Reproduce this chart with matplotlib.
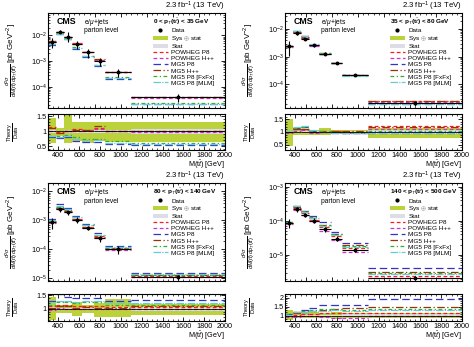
"""CMS double-differential ttbar cross section vs M(tt) in bins of pT(tt)."""

import matplotlib.pyplot as plt
import numpy as np
from matplotlib.lines import Line2D
from matplotlib.patches import Patch

plt.rcParams['font.family'] = ['Liberation Sans', 'DejaVu Sans']
plt.rcParams['mathtext.fontset'] = 'custom'
plt.rcParams['mathtext.rm'] = 'Liberation Sans'
plt.rcParams['mathtext.it'] = 'Liberation Sans:italic'
plt.rcParams['mathtext.bf'] = 'Liberation Sans:bold'

# M(tt) bin edges [GeV]
edges = np.array([300, 375, 450, 530, 625, 740, 850, 1100, 2000])

pt_titles = [
    r'0 < p$_{T}$(t$\bar{t}$) < 35 GeV',
    r'35 < p$_{T}$(t$\bar{t}$) < 80 GeV',
    r'80 < p$_{T}$(t$\bar{t}$) < 140 GeV',
    r'140 < p$_{T}$(t$\bar{t}$) < 500 GeV',
]

# measured cross sections [pb GeV^-2]
data_pt1 = [5.3e-3, 1.4e-2, 8.7e-3, 4.5e-3, 2.2e-3, 1.0e-3, 3.7e-4, 4.1e-5]
data_pt2 = [2.4e-3, 7.2e-3, 4.5e-3, 2.6e-3, 1.3e-3, 6.0e-4, 2.2e-4, 2.1e-5]
data_pt3 = [8.5e-4, 2.4e-3, 1.9e-3, 1.05e-3, 5.5e-4, 2.5e-4, 1.0e-4, 1.15e-5]
data_pt4 = [8.4e-5, 2.2e-4, 1.5e-4, 9.8e-5, 5.6e-5, 3.0e-5, 1.4e-5, 2.1e-6]

# relative sys (+) stat uncertainty, upper and lower
sys_up_pt1 = [0.46, 0.12, 0.56, 0.32, 0.32, 0.32, 0.32, 0.32]
sys_dn_pt1 = [0.37, 0.16, 0.37, 0.32, 0.37, 0.32, 0.35, 0.35]
sys_up_pt2 = [0.50, 0.15, 0.10, 0.08, 0.15, 0.07, 0.07, 0.15]
sys_dn_pt2 = [0.55, 0.12, 0.10, 0.10, 0.10, 0.07, 0.07, 0.22]
sys_up_pt3 = [0.44, 0.13, 0.13, 0.25, 0.15, 0.20, 0.35, 0.17]
sys_dn_pt3 = [0.40, 0.17, 0.17, 0.25, 0.15, 0.30, 0.29, 0.21]
sys_up_pt4 = [0.30, 0.15, 0.15, 0.20, 0.15, 0.20, 0.15, 0.15]
sys_dn_pt4 = [0.25, 0.15, 0.15, 0.15, 0.15, 0.18, 0.15, 0.15]

# relative statistical uncertainty
stat_pt1 = [0.05, 0.03, 0.04, 0.04, 0.04, 0.05, 0.06, 0.08]
stat_pt2 = [0.05, 0.03, 0.03, 0.03, 0.04, 0.04, 0.05, 0.07]
stat_pt3 = [0.06, 0.04, 0.04, 0.04, 0.05, 0.05, 0.06, 0.08]
stat_pt4 = [0.07, 0.05, 0.05, 0.05, 0.06, 0.06, 0.07, 0.09]

models = ['POWHEG P8', 'POWHEG H++', 'MG5 P8', 'MG5 H++', 'MG5 P8 [FxFx]', 'MG5 P8 [MLM]']
model_colors = ['#ff1a1a', '#cc33cc', '#3333cc', '#993300', '#33aa33', '#66cccc']
model_styles = [(0, (3, 2)), (0, (3, 2)), (0, (6, 3)), (0, (6, 2, 1, 2)), (0, (3, 2, 1, 2)), (0, (6, 1, 1, 1))]

# theory / data per pT bin, one row per model
ratio_pt1 = [
    [1.15, 0.98, 1.02, 1.08, 1.05, 1.12, 1.02, 1.00],
    [1.00, 0.95, 1.00, 1.02, 1.00, 1.08, 1.00, 0.98],
    [0.80, 0.78, 0.80, 0.68, 0.65, 0.65, 0.58, 0.55],
    [1.10, 0.95, 1.00, 1.05, 1.05, 1.18, 1.00, 1.00],
    [0.85, 0.85, 0.88, 0.80, 0.75, 0.75, 0.68, 0.60],
    [0.85, 0.82, 0.85, 0.75, 0.70, 0.70, 0.62, 0.57],
]
ratio_pt2 = [
    [1.00, 1.10, 1.12, 1.00, 1.00, 1.02, 1.00, 1.22],
    [0.95, 1.05, 1.08, 0.98, 1.00, 1.00, 0.98, 1.10],
    [1.00, 1.15, 1.20, 1.05, 1.00, 0.98, 0.97, 0.97],
    [1.00, 1.10, 1.10, 1.00, 1.02, 1.03, 1.02, 1.20],
    [1.05, 1.15, 1.20, 1.05, 1.02, 1.00, 0.98, 1.05],
    [1.05, 1.20, 1.25, 1.08, 1.00, 0.98, 0.95, 0.95],
]
ratio_pt3 = [
    [1.10, 1.15, 1.15, 1.10, 1.12, 1.12, 1.08, 1.08],
    [0.95, 1.05, 1.00, 0.98, 1.00, 1.00, 0.98, 0.98],
    [1.30, 1.55, 1.45, 1.40, 1.42, 1.42, 1.30, 1.33],
    [1.05, 1.10, 1.10, 1.05, 1.08, 1.05, 1.05, 1.10],
    [1.15, 1.25, 1.25, 1.20, 1.25, 1.25, 1.15, 1.15],
    [1.25, 1.30, 1.30, 1.25, 1.30, 1.30, 1.20, 1.20],
]
ratio_pt4 = [
    [1.00, 1.05, 1.10, 1.10, 1.15, 1.15, 1.15, 1.15],
    [0.95, 0.95, 1.00, 1.00, 0.90, 0.88, 0.88, 1.00],
    [1.10, 1.20, 1.30, 1.40, 1.60, 1.60, 1.60, 1.95],
    [1.05, 1.15, 1.20, 1.25, 1.30, 1.35, 1.40, 1.50],
    [1.10, 1.20, 1.25, 1.30, 1.35, 1.35, 1.30, 1.38],
    [1.05, 1.20, 1.20, 1.25, 1.25, 1.30, 1.25, 1.30],
]

panels = [
    dict(data=data_pt1, up=sys_up_pt1, dn=sys_dn_pt1, stat=stat_pt1, ratio=ratio_pt1,
         ylim=(10 ** -4.8, 10 ** -1.14), rlim=(0.38, 1.58), rticks=[0.5, 1, 1.5]),
    dict(data=data_pt2, up=sys_up_pt2, dn=sys_dn_pt2, stat=stat_pt2, ratio=ratio_pt2,
         ylim=(10 ** -4.85, 10 ** -1.42), rlim=(0.3, 1.7), rticks=[0.5, 1, 1.5]),
    dict(data=data_pt3, up=sys_up_pt3, dn=sys_dn_pt3, stat=stat_pt3, ratio=ratio_pt3,
         ylim=(10 ** -5.09, 10 ** -1.71), rlim=(0.55, 1.55), rticks=[1, 1.5]),
    dict(data=data_pt4, up=sys_up_pt4, dn=sys_dn_pt4, stat=stat_pt4, ratio=ratio_pt4,
         ylim=(10 ** -5.77, 10 ** -2.89), rlim=(0.7, 2.2), rticks=[1, 1.5, 2]),
]

SYS_COLOR = '#bcd23a'
STAT_COLOR = '#dcdde6'

W, H = 474, 347
fig = plt.figure(figsize=(W / 100, H / 100), dpi=100)


def px_axes(x0, x1, y0, y1):
    return fig.add_axes([x0 / W, 1 - y1 / H, (x1 - x0) / W, (y1 - y0) / H])


layout = [
    (48, 225, (13, 108), (114, 150)),
    (285, 462, (13, 108), (114, 150)),
    (48, 225, (183, 281), (294, 321)),
    (285, 462, (183, 281), (294, 321)),
]

centers = 0.5 * (edges[:-1] + edges[1:])
half = 0.5 * np.diff(edges)

for i, (p, (x0, x1, (my0, my1), (ry0, ry1))) in enumerate(zip(panels, layout)):
    ax = px_axes(x0, x1, my0, my1)
    rax = px_axes(x0, x1, ry0, ry1)
    data = np.array(p['data'])
    up = np.array(p['up'])
    dn = np.array(p['dn'])
    stat = np.array(p['stat'])

    # main panel
    ax.set_yscale('log')
    for m in range(len(models)):
        ax.hlines(data * np.array(p['ratio'][m]), edges[:-1], edges[1:],
                  colors=model_colors[m], linestyles=model_styles[m], lw=0.9)
    ax.errorbar(centers, data, xerr=half, yerr=[data * dn, data * up],
                fmt='o', color='k', ms=1.8, lw=0.8, capsize=0)
    ax.set_xlim(300, 2000)
    ax.set_ylim(*p['ylim'])
    ax.tick_params(labelbottom=False)

    ax.text(0.05, 0.955, 'CMS', transform=ax.transAxes, fontsize=6.3, fontweight='bold',
            va='top', ha='left')
    ax.text(0.205, 0.955, r'e/$\mu$+jets', transform=ax.transAxes, fontsize=4.8,
            va='top', ha='left')
    ax.text(0.205, 0.85, 'parton level', transform=ax.transAxes, fontsize=4.8,
            va='top', ha='left')
    ax.text(1.0, 1.0, r'2.3 fb$^{-1}$ (13 TeV)', transform=ax.transAxes,
            fontsize=5.6, va='bottom', ha='right')

    handles = [Line2D([], [], marker='o', color='k', ms=2, ls='none'),
               Patch(facecolor=SYS_COLOR), Patch(facecolor=STAT_COLOR)]
    handles += [Line2D([], [], color=c, ls=s, lw=0.9) for c, s in zip(model_colors, model_styles)]
    labels = ['Data', r'Sys $\oplus$ stat', 'Stat'] + models
    ax.legend(handles, labels, loc='upper left', bbox_to_anchor=(0.57, 0.995),
              fontsize=4.6, title=pt_titles[i],
              title_fontproperties={'weight': 'bold', 'size': 4.6},
              frameon=False, handlelength=2.4, handleheight=0.6, labelspacing=0.12,
              borderpad=0.1, handletextpad=0.5, alignment='left')

    ax.set_ylabel(r'$\frac{d^{2}\sigma}{dM(t\bar{t})\,dp_{T}(t\bar{t})}$ [pb GeV$^{-2}$]',
                  fontsize=5.8)
    ax.yaxis.set_label_coords(-0.15, 0.5)

    # ratio panel
    rax.bar(centers, up + dn, bottom=1 - dn, width=np.diff(edges), color=SYS_COLOR, lw=0)
    rax.bar(centers, 2 * stat, bottom=1 - stat, width=np.diff(edges), color=STAT_COLOR, lw=0)
    for m in range(len(models)):
        rax.hlines(p['ratio'][m], edges[:-1], edges[1:], colors=model_colors[m],
                   linestyles=model_styles[m], lw=0.9)
    rax.hlines(np.ones(len(centers)), edges[:-1], edges[1:], colors='k', lw=0.6)
    rax.set_xlim(300, 2000)
    rax.set_ylim(*p['rlim'])
    rax.set_yticks(p['rticks'])
    rax.set_yticklabels([f'{t:g}' for t in p['rticks']])
    rax.set_xticks(np.arange(400, 2001, 200))
    rax.set_xlabel(r'M(t$\bar{t}$) [GeV]', fontsize=5.2, loc='right')
    rax.xaxis.set_label_coords(1.0, -8.8 / (ry1 - ry0))
    rax.set_ylabel(r'$\frac{\mathrm{Theory}}{\mathrm{Data}}$', fontsize=5.8)
    rax.yaxis.set_label_coords(-0.15, 0.5)

    for a in (ax, rax):
        a.minorticks_on()
        a.tick_params(which='both', direction='in', top=True, right=True, labelsize=5.2,
                      pad=1.2)
        a.tick_params(which='major', length=3, width=0.6)
        a.tick_params(which='minor', length=1.5, width=0.5)
        for s in a.spines.values():
            s.set_linewidth(0.8)

fig.savefig('out.png', dpi=100)
